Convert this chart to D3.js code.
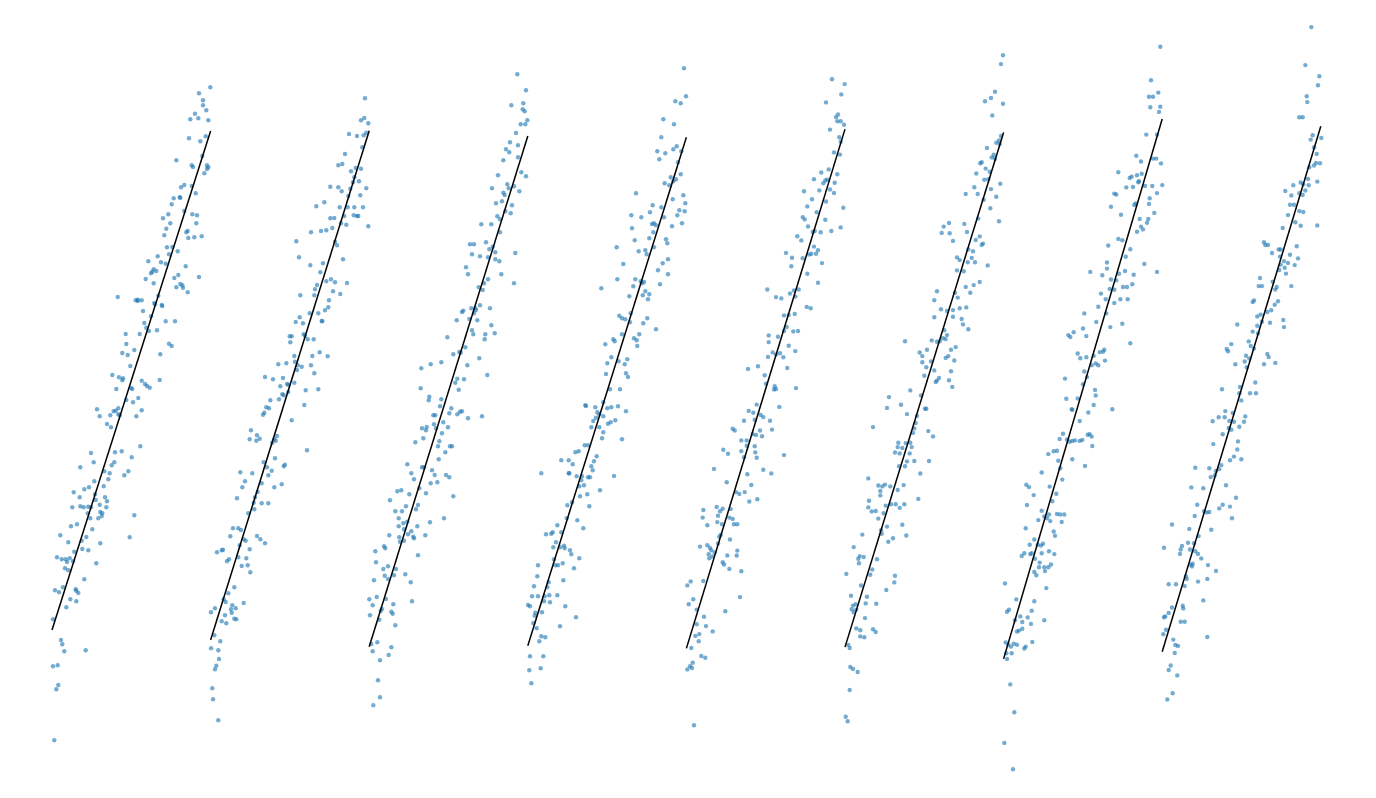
<!DOCTYPE html>
<html>
<head>
<meta charset="utf-8">
<script src="https://cdn.jsdelivr.net/npm/d3@7"></script>
<style>
  html, body { margin: 0; padding: 0; background: #ffffff; }
  svg { display: block; }
</style>
</head>
<body>
<svg id="chart" width="1376" height="798"></svg>
<script>
// ---- data (x: 0..15.86 within each facet, y in value units) ----
const panels = ["1", "2", "3", "4", "5", "6", "7", "8"];
const xExtent = [0, 15.86];
const fitIntercepts = [17.0, 16.0, 15.33, 15.43, 15.16, 15.29, 14.11, 14.83];
const fitSlopes = [3.146, 3.211, 3.220, 3.206, 3.274, 3.245, 3.404, 3.313];

const p1 = [[15.83,71.27],[14.7,70.67],[15.1,69.97],[15.1,69.47],[15.43,68.97],[14.3,68.63],[13.83,68.07],[14.63,68.17],[15.63,67.97],[13.7,66.17],[14.83,65.87],[15.37,66.37],[15.03,64.4],[12.43,63.97],[13.97,63.47],[14.1,63.3],[15.5,63.47],[15.63,63.27],[15.5,63.1],[15.23,62.67],[13.23,61.5],[12.9,61.27],[13.97,61.4],[14.37,60.67],[12.17,60.17],[12.77,60.27],[12.83,60.23],[11.97,59.57],[13.23,58.9],[14.03,58.57],[14.5,58.47],[11.63,58.57],[11.1,58.17],[11.83,57.67],[14.43,57.67],[11.43,57.13],[13.57,56.9],[13.43,56.77],[11.23,56.47],[13.63,56.2],[14.23,56.27],[14.97,56.37],[11.5,55.27],[12.03,55.3],[12.57,54.87],[11.7,54.57],[10.57,54.37],[10.9,53.77],[11.37,53.63],[9.63,53.87],[10.17,53.07],[10.03,52.83],[9.9,52.67],[10.43,52.9],[9.37,52.1],[12.23,52.2],[12.63,52.5],[13.37,53.37],[14.7,52.3],[10.17,51.67],[12.83,51.6],[13.03,51.47],[12.43,51.27],[13.1,51.23],[13.57,50.77],[6.57,50.3],[8.37,49.97],[8.57,50.03],[8.57,49.9],[8.97,49.97],[10.63,50.43],[10.23,49.7],[10.3,49.57],[10.97,49.5],[11.03,49.4],[9.1,48.9],[9.9,48.37],[9.23,47.7],[11.37,47.87],[12.3,47.87],[9.43,47.23],[9.7,46.9],[10.5,46.97],[7.37,46.6],[8.77,46.6],[7.43,45.6],[8.23,45.0],[7.03,44.7],[7.57,44.5],[11.7,45.63],[11.97,45.4],[10.83,44.57],[7.83,43.4],[6.03,42.5],[6.7,42.27],[7.1,42.17],[7.03,41.97],[6.43,41.1],[7.9,41.2],[8.03,41.1],[8.97,41.93],[9.3,41.6],[9.5,41.4],[9.77,41.23],[10.77,42.0],[8.1,39.77],[8.63,40.2],[7.43,40.0],[8.97,38.97],[4.5,39.07],[4.77,38.37],[5.83,38.47],[6.17,38.87],[6.37,38.93],[6.63,39.17],[6.63,38.57],[6.77,38.47],[8.43,38.37],[5.5,37.6],[5.9,37.27],[3.9,34.7],[4.17,33.77],[2.83,33.27],[6.3,34.77],[6.97,34.87],[7.97,34.27],[8.83,35.37],[6.23,33.77],[5.97,33.47],[5.77,32.67],[5.63,32.07],[7.63,32.87],[7.23,32.47],[5.23,32.87],[4.23,31.87],[5.17,31.37],[3.23,31.07],[3.7,31.27],[2.17,30.77],[4.3,30.57],[2.77,30.27],[5.3,30.27],[5.5,29.87],[4.37,30.0],[4.77,29.53],[5.43,29.27],[2.03,29.27],[2.83,29.37],[3.17,29.27],[3.63,29.33],[3.9,29.27],[3.57,28.67],[4.83,28.8],[5.03,28.67],[4.97,28.4],[4.63,28.17],[3.83,28.17],[8.23,28.47],[2.5,27.57],[1.9,27.37],[4.03,27.07],[3.43,26.3],[7.77,26.27],[0.83,26.47],[2.97,25.93],[1.63,25.77],[4.83,25.67],[2.23,24.83],[3.03,25.1],[3.63,24.97],[0.5,24.27],[0.97,24.07],[1.37,24.07],[1.77,24.17],[2.1,23.87],[1.5,23.8],[1.3,23.17],[1.63,22.97],[4.43,23.67],[3.23,22.07],[0.3,20.97],[0.7,20.77],[1.1,21.27],[2.37,21.07],[2.43,20.93],[2.63,20.7],[1.83,20.07],[2.43,19.87],[1.43,19.27],[0.1,18.07],[0.9,16.0],[1.03,15.57],[1.23,14.87],[3.37,14.97],[0.1,13.37],[0.57,13.47],[0.63,11.5],[0.43,11.07],[0.23,5.97]];

const p2 = [[15.44,70.17],[15.04,67.97],[15.37,68.2],[15.77,67.67],[13.84,66.6],[14.64,66.4],[15.31,66.47],[15.57,66.73],[15.17,65.27],[13.44,64.6],[12.77,63.47],[13.17,63.6],[14.04,62.87],[14.51,63.2],[15.04,63.13],[14.37,62.27],[14.84,61.87],[14.24,61.77],[11.97,61.33],[12.77,61.27],[13.11,60.87],[13.97,61.13],[15.57,61.17],[13.77,60.4],[14.97,60.47],[10.57,59.37],[11.37,59.77],[12.91,59.27],[13.71,59.27],[14.37,59.27],[15.24,59.27],[11.97,58.17],[12.37,58.2],[13.37,58.4],[14.31,58.47],[14.64,58.4],[14.77,58.4],[13.04,57.67],[13.57,57.53],[15.77,57.37],[12.17,57.2],[10.04,56.77],[11.04,56.9],[11.57,56.97],[8.57,55.87],[12.44,55.83],[12.64,55.47],[8.84,54.27],[13.24,54.07],[9.97,53.47],[11.24,53.67],[10.97,52.77],[11.57,51.87],[12.04,52.07],[12.44,51.77],[13.64,51.7],[10.64,51.5],[10.44,51.07],[12.24,50.87],[12.97,50.6],[8.97,50.47],[10.37,50.47],[11.84,49.97],[11.77,49.27],[11.44,48.97],[9.91,48.67],[10.77,48.67],[8.91,48.27],[8.51,47.8],[9.24,47.67],[11.11,47.9],[11.17,47.87],[7.91,46.37],[8.11,46.37],[7.97,45.77],[9.31,46.57],[9.44,46.43],[9.71,46.07],[10.31,46.07],[10.17,44.4],[10.91,44.77],[11.71,44.37],[8.37,44.4],[6.77,43.57],[7.57,43.67],[8.44,43.83],[8.71,43.47],[9.11,43.33],[8.64,43.0],[10.04,43.47],[10.37,42.67],[5.44,42.3],[6.24,42.07],[7.24,42.2],[6.97,41.37],[7.64,41.6],[7.77,41.53],[8.37,41.73],[7.17,40.57],[7.77,40.8],[7.31,40.47],[9.51,40.97],[10.77,41.07],[5.97,39.97],[6.84,40.07],[5.57,39.27],[5.84,39.17],[9.37,39.5],[5.24,38.53],[5.37,38.73],[8.11,37.97],[4.04,36.97],[3.91,36.07],[4.57,35.93],[4.64,36.47],[4.91,36.13],[6.17,35.73],[6.51,35.93],[6.64,36.4],[6.37,36.07],[9.64,34.97],[6.44,34.17],[5.31,33.77],[5.64,33.27],[6.11,32.93],[5.77,32.47],[7.31,33.37],[7.44,33.53],[2.97,32.77],[4.17,32.67],[3.44,31.87],[3.17,31.27],[5.11,31.67],[4.71,30.8],[6.37,31.27],[7.11,31.57],[2.64,30.17],[4.44,30.27],[4.31,29.73],[4.37,29.07],[5.11,29.67],[5.77,29.67],[3.77,28.67],[2.24,27.17],[2.77,27.17],[3.04,27.0],[1.97,26.37],[3.31,26.07],[3.51,25.93],[4.64,26.4],[4.97,26.07],[5.44,25.67],[2.91,25.47],[3.91,25.07],[0.64,24.77],[1.11,24.97],[1.24,25.03],[1.84,24.07],[1.64,23.87],[2.77,24.27],[3.57,24.17],[3.11,23.4],[3.71,23.47],[3.97,22.77],[2.37,21.27],[1.77,20.67],[1.31,20.07],[1.51,19.8],[2.17,19.47],[2.04,19.07],[2.11,18.73],[2.51,19.17],[3.31,19.7],[0.04,18.77],[0.44,19.17],[1.44,18.47],[1.11,17.87],[1.57,17.67],[2.37,18.13],[2.57,18.07],[0.37,16.47],[0.97,15.87],[0.04,15.17],[0.77,14.97],[0.84,14.1],[0.57,13.43],[0.44,13.07],[0.17,11.17],[0.24,10.07],[0.77,7.97]];

const p3 = [[14.81,72.57],[15.68,70.97],[14.21,69.47],[15.41,69.67],[15.35,69.07],[15.55,68.87],[15.81,67.97],[15.15,67.57],[15.61,67.57],[14.68,66.7],[14.08,65.77],[14.88,65.47],[13.68,65.07],[14.01,64.77],[14.88,64.27],[13.41,63.97],[15.21,62.77],[15.68,62.37],[12.88,62.47],[13.81,61.57],[13.95,61.17],[14.48,61.37],[12.28,61.17],[13.41,60.73],[13.55,60.5],[15.01,60.87],[12.68,59.67],[13.28,59.87],[14.28,59.47],[14.15,58.67],[13.61,58.87],[12.81,58.37],[13.08,58.07],[11.21,57.57],[12.21,57.57],[13.08,56.77],[10.08,55.57],[10.48,55.57],[11.68,55.77],[10.28,54.57],[11.08,54.37],[12.01,55.07],[12.35,55.33],[12.61,54.77],[11.88,54.27],[12.61,54.07],[13.01,53.87],[14.61,54.7],[9.68,53.27],[9.88,52.57],[13.21,52.57],[11.88,52.07],[11.48,51.67],[14.48,51.67],[10.95,51.27],[11.35,51.0],[11.08,49.47],[10.61,49.17],[10.68,49.0],[10.48,48.67],[9.28,48.8],[9.41,48.93],[10.21,49.17],[12.08,49.17],[8.75,47.97],[10.01,48.1],[10.81,47.97],[12.21,47.47],[10.28,46.97],[10.41,46.57],[11.61,46.57],[11.55,46.07],[12.55,46.67],[7.81,46.27],[9.61,45.27],[8.41,44.57],[9.01,44.8],[9.15,44.73],[11.01,44.17],[5.21,43.17],[6.15,43.57],[7.21,43.77],[9.81,43.47],[11.81,42.5],[8.81,42.13],[9.48,42.07],[5.15,41.17],[8.61,41.73],[8.95,41.03],[6.01,40.33],[5.95,39.97],[7.21,40.07],[7.08,39.37],[8.21,39.17],[8.01,38.67],[8.81,38.57],[9.08,38.83],[9.28,38.87],[9.88,38.17],[11.28,38.37],[6.41,38.47],[6.61,38.47],[7.41,37.77],[6.48,37.57],[5.28,37.17],[5.75,37.3],[5.68,36.97],[6.68,37.17],[7.88,37.27],[7.28,36.67],[5.41,36.17],[4.61,35.77],[7.01,35.87],[6.88,35.37],[8.08,35.37],[8.28,35.37],[7.61,34.77],[6.95,34.07],[3.81,33.57],[5.28,33.27],[5.48,33.27],[6.28,32.97],[6.55,32.5],[6.15,31.67],[4.21,32.67],[4.48,32.07],[7.68,32.5],[8.01,32.27],[6.81,31.77],[2.81,30.87],[3.21,30.97],[4.01,30.57],[5.01,31.17],[5.68,30.67],[8.41,30.37],[2.08,29.97],[3.68,29.37],[4.88,29.5],[4.68,29.07],[2.61,28.87],[3.28,28.87],[2.95,28.17],[3.81,27.83],[3.41,27.67],[2.95,27.37],[4.81,27.37],[6.08,27.77],[7.48,28.17],[3.48,27.07],[4.21,26.87],[3.88,26.57],[4.41,26.33],[4.48,26.17],[5.61,26.47],[2.01,26.47],[3.01,26.27],[3.08,25.83],[3.48,25.93],[1.48,25.37],[1.61,25.17],[0.61,24.87],[4.88,24.47],[0.68,23.77],[1.41,23.1],[1.88,23.37],[2.68,23.1],[1.55,22.43],[1.88,22.1],[2.48,22.47],[3.61,22.57],[4.15,21.77],[0.48,21.97],[0.01,20.07],[0.75,20.3],[1.68,20.1],[4.28,19.87],[0.35,19.47],[1.28,19.1],[2.41,19.57],[1.15,18.9],[2.21,18.83],[2.35,18.63],[0.08,18.47],[1.01,18.03],[2.61,17.47],[0.21,15.6],[0.81,15.77],[0.35,14.87],[2.21,15.27],[1.95,14.5],[1.08,13.97],[0.88,11.97],[1.08,10.27],[0.41,9.47]];

const p4 = [[15.62,73.17],[15.82,70.37],[14.75,69.87],[15.29,69.67],[13.55,68.07],[14.62,67.57],[13.35,66.27],[12.95,64.87],[13.75,64.67],[13.15,64.07],[14.55,65.07],[14.89,65.37],[15.35,64.87],[15.02,63.77],[15.29,62.57],[14.29,62.27],[14.82,62.07],[14.55,61.87],[13.69,61.67],[14.15,61.47],[10.82,60.67],[15.55,60.47],[15.75,59.67],[14.49,60.07],[12.49,59.47],[13.35,59.27],[15.15,58.97],[15.69,58.87],[10.35,58.47],[11.35,58.27],[12.22,58.77],[13.62,58.27],[14.95,58.47],[12.42,57.6],[12.62,57.67],[12.82,57.47],[15.42,57.67],[14.42,57.37],[10.42,57.17],[12.55,56.77],[10.69,55.97],[12.15,56.17],[13.82,56.07],[13.95,55.67],[8.89,55.27],[11.09,54.87],[11.75,54.97],[11.89,54.57],[12.62,55.27],[14.02,54.07],[13.49,53.67],[13.02,52.97],[9.55,53.6],[14.02,52.57],[8.95,52.07],[10.75,52.07],[11.29,51.87],[11.62,51.8],[11.42,51.67],[10.55,51.37],[13.22,51.57],[7.35,51.17],[11.75,50.87],[12.15,50.57],[11.49,50.47],[12.02,50.07],[10.15,50.37],[9.15,48.43],[9.42,48.17],[9.75,48.07],[10.22,47.77],[10.29,48.67],[11.95,48.17],[11.55,47.67],[12.82,47.07],[9.42,46.57],[11.15,46.57],[10.62,46.17],[10.89,45.97],[10.95,45.4],[7.75,45.57],[8.55,46.07],[8.69,45.87],[8.35,44.27],[7.95,43.67],[9.09,43.87],[9.95,44.07],[9.69,43.57],[7.82,42.6],[9.82,42.67],[10.02,42.3],[8.22,41.07],[9.22,41.07],[5.75,39.47],[5.82,39.4],[6.75,39.27],[7.55,39.77],[7.95,39.17],[8.35,39.27],[9.02,39.37],[9.82,38.87],[6.95,38.77],[7.15,38.57],[6.82,38.23],[6.55,37.9],[7.55,38.37],[8.02,37.63],[8.29,37.77],[8.75,37.97],[6.35,37.27],[7.15,37.27],[7.55,36.77],[7.42,36.17],[9.42,36.07],[5.69,35.47],[6.02,35.47],[4.75,34.77],[5.09,34.87],[6.89,34.37],[6.62,33.87],[6.35,33.37],[6.49,32.97],[3.35,33.97],[4.09,33.97],[4.49,33.57],[1.35,32.67],[4.09,32.67],[4.15,32.67],[4.89,32.37],[5.42,32.37],[5.35,31.97],[6.02,32.27],[6.22,32.27],[8.62,32.4],[5.15,31.37],[5.62,31.47],[7.22,30.97],[5.95,30.57],[5.22,30.37],[3.95,29.47],[4.42,29.77],[6.15,29.37],[3.89,28.17],[4.95,27.97],[2.95,27.47],[5.55,27.17],[1.82,26.57],[2.35,26.63],[2.49,26.77],[3.35,26.77],[2.82,25.77],[2.55,25.27],[3.22,25.27],[3.62,25.43],[3.69,25.17],[4.22,24.97],[4.35,24.57],[5.15,24.17],[2.62,24.07],[2.75,23.47],[3.02,23.47],[3.49,23.67],[4.62,23.17],[1.02,23.47],[0.95,22.37],[3.55,21.97],[2.09,21.77],[1.95,21.27],[0.62,21.37],[0.42,20.37],[1.02,20.37],[1.69,20.37],[2.15,20.47],[2.95,20.47],[1.62,19.87],[2.22,19.77],[0.02,19.5],[0.22,19.37],[3.75,19.37],[0.75,18.73],[0.69,18.43],[1.42,18.77],[4.82,18.27],[0.55,17.67],[0.89,17.17],[3.22,17.37],[1.35,16.37],[1.75,16.27],[1.15,15.87],[0.22,14.37],[1.55,14.37],[0.15,12.97],[1.29,13.17],[0.35,11.67]];

const p5 = [[14.56,72.08],[15.83,71.59],[15.49,70.56],[13.96,69.76],[14.96,68.29],[15.16,68.55],[15.09,67.88],[15.43,67.88],[15.76,67.53],[14.36,67.04],[15.29,66.28],[15.43,65.83],[14.76,64.76],[15.36,64.54],[13.49,62.75],[14.23,63.06],[15.09,62.57],[12.76,62.08],[13.69,61.68],[13.89,61.95],[14.09,62.04],[14.36,61.05],[14.76,60.7],[14.83,61.72],[11.76,60.87],[13.29,60.96],[12.56,60.07],[12.09,59.36],[13.03,58.78],[13.96,59.85],[15.69,59.22],[11.63,58.29],[11.83,58.06],[13.89,58.02],[12.16,57.35],[12.63,56.81],[12.83,56.9],[13.43,56.77],[14.49,56.9],[15.43,57.26],[11.09,56.37],[11.49,55.96],[12.76,55.34],[13.16,54.98],[12.96,54.62],[12.29,54.54],[12.49,54.62],[9.96,54.71],[10.56,54.22],[10.49,53.37],[11.63,54.18],[13.56,53.69],[12.09,52.62],[13.16,51.72],[8.09,51.05],[8.96,50.29],[9.49,50.16],[10.36,50.65],[10.76,50.96],[11.23,51.05],[10.89,50.34],[12.03,49.31],[12.43,49.18],[9.76,48.46],[10.23,48.51],[10.83,48.6],[10.03,47.3],[10.69,46.86],[11.16,46.9],[9.76,46.9],[8.23,46.46],[8.23,45.79],[9.16,46.32],[10.23,45.43],[10.89,44.89],[8.16,44.31],[8.63,44.76],[8.96,44.54],[9.36,44.67],[9.69,44.27],[6.16,43.11],[7.16,43.37],[10.09,43.2],[7.83,42.48],[7.96,41.63],[8.83,41.37],[8.96,41.1],[8.76,41.05],[10.96,41.19],[9.29,39.31],[7.03,39.54],[7.43,38.51],[7.69,38.29],[6.83,38.02],[6.23,38.91],[6.69,38.73],[8.36,37.93],[8.56,37.04],[5.76,37.93],[4.63,37.12],[4.83,36.95],[6.63,36.59],[6.96,36.5],[7.36,36.95],[7.56,36.37],[6.03,35.96],[5.49,35.96],[6.03,35.43],[6.83,35.38],[6.89,34.76],[7.03,34.22],[3.69,35.03],[4.16,34.62],[5.49,34.89],[5.76,34.27],[9.76,34.49],[7.69,33.02],[8.49,32.66],[2.76,33.11],[4.03,31.77],[6.09,32.57],[6.49,31.5],[5.83,30.79],[4.96,30.79],[5.29,30.61],[7.09,30.07],[6.29,29.85],[3.63,29.13],[4.43,29.09],[4.29,28.24],[4.76,27.57],[4.63,28.11],[5.09,27.57],[2.09,27.48],[1.63,28.24],[1.69,29.0],[3.03,29.31],[3.16,28.42],[3.36,28.87],[3.09,27.79],[3.56,27.57],[4.36,26.05],[1.36,25.34],[2.09,25.47],[2.36,25.21],[2.49,24.98],[2.23,24.58],[2.29,24.18],[2.63,24.36],[2.83,24.76],[3.29,26.32],[3.43,26.5],[3.16,25.65],[3.63,23.78],[3.76,23.55],[4.09,24.45],[4.29,23.11],[5.03,24.45],[5.09,24.94],[5.49,22.88],[5.36,20.29],[3.89,18.87],[1.69,21.9],[0.09,21.46],[0.43,21.86],[0.23,19.58],[0.69,20.07],[1.03,19.04],[1.76,18.33],[1.96,17.39],[2.63,16.86],[1.03,17.57],[1.29,16.59],[0.89,16.41],[1.23,15.87],[0.49,15.2],[1.49,14.4],[1.89,14.22],[0.63,13.73],[0.36,13.37],[0.09,13.06],[0.56,13.2],[0.76,7.48]];

const p6 = [[15.8,74.48],[15.6,73.59],[15.0,70.82],[14.6,70.2],[14.0,69.88],[15.8,69.62],[14.73,68.46],[15.6,66.4],[15.4,65.96],[15.47,65.6],[15.13,65.73],[14.87,64.53],[15.0,64.12],[14.67,64.26],[14.2,65.2],[13.53,63.68],[13.67,63.77],[14.07,63.14],[14.47,62.83],[13.13,62.65],[13.93,62.03],[14.33,62.07],[12.93,61.27],[15.53,61.62],[14.6,61.09],[15.13,60.33],[12.07,60.6],[13.27,60.6],[13.87,60.02],[14.53,59.17],[15.4,57.87],[13.33,58.14],[11.93,57.61],[12.2,56.8],[9.87,57.34],[10.4,57.7],[9.67,56.71],[10.47,56.67],[10.8,55.91],[13.47,56.36],[13.8,55.64],[13.67,55.51],[13.07,56.0],[12.33,55.06],[12.8,54.88],[12.67,54.21],[13.0,53.77],[12.27,53.77],[11.2,54.26],[11.47,53.99],[11.87,52.87],[11.2,52.96],[14.27,53.46],[13.47,51.8],[12.87,51.49],[12.53,50.73],[12.07,51.31],[9.2,50.87],[8.93,49.97],[8.93,48.28],[11.0,50.73],[11.27,50.24],[9.6,49.08],[10.2,48.9],[10.8,48.99],[11.47,49.17],[12.13,49.26],[10.8,48.32],[11.67,48.1],[11.8,47.56],[12.33,47.07],[9.93,46.98],[10.2,46.49],[11.07,45.29],[10.6,45.02],[10.33,44.39],[10.07,44.21],[6.0,45.87],[8.67,45.96],[9.2,45.82],[9.47,45.87],[9.8,46.18],[10.07,46.09],[8.2,45.02],[7.47,44.75],[7.73,44.39],[7.73,43.77],[8.6,43.86],[8.13,43.28],[8.93,42.96],[9.07,41.8],[9.2,41.94],[9.4,42.21],[7.93,42.43],[10.6,42.87],[10.4,41.98],[10.73,41.31],[10.93,43.95],[6.53,40.96],[4.4,40.29],[4.2,39.21],[5.6,39.53],[6.2,38.59],[7.6,40.46],[8.0,39.12],[8.13,39.12],[7.2,38.41],[7.07,37.7],[6.93,37.16],[6.8,36.71],[8.33,36.89],[8.8,36.36],[2.8,37.29],[5.33,35.73],[5.27,35.29],[5.73,35.2],[6.07,35.69],[6.53,35.73],[6.67,35.29],[5.0,34.75],[5.47,34.66],[6.47,34.66],[6.2,33.86],[6.93,33.9],[7.53,32.65],[8.4,33.9],[5.4,33.37],[6.0,33.37],[2.33,32.16],[3.33,31.45],[3.53,30.91],[3.73,31.36],[4.0,31.54],[3.53,30.46],[4.53,31.36],[5.27,31.0],[5.07,29.57],[5.87,31.49],[7.33,30.11],[2.4,29.93],[2.33,29.26],[2.67,28.86],[3.07,28.9],[3.33,28.14],[4.07,29.44],[4.6,29.57],[5.47,29.21],[5.93,29.57],[3.87,28.68],[3.6,26.98],[3.67,26.62],[4.2,27.34],[4.8,26.18],[4.33,25.82],[5.73,27.52],[6.13,26.45],[1.73,26.54],[0.87,25.29],[1.33,24.12],[1.47,24.39],[1.87,24.3],[1.4,23.68],[3.2,24.08],[2.73,23.05],[2.53,22.52],[5.0,22.43],[4.93,21.76],[4.13,21.0],[0.13,22.61],[1.6,21.45],[2.2,20.33],[2.07,19.66],[3.13,19.62],[0.6,20.42],[0.8,19.44],[1.07,19.57],[0.67,19.08],[0.87,18.77],[1.13,19.04],[2.0,18.19],[2.8,17.07],[3.07,16.8],[1.13,17.16],[1.53,16.98],[1.53,16.36],[1.93,16.27],[0.33,15.51],[0.47,15.2],[0.53,13.3],[0.8,13.1],[1.27,12.8],[0.47,11.0],[0.07,8.32],[0.27,7.87]];

const p7 = [[15.67,75.32],[14.74,71.97],[14.54,70.32],[14.94,70.32],[15.47,70.74],[14.67,69.28],[15.67,69.33],[15.54,68.81],[14.27,66.54],[15.34,66.54],[14.94,64.14],[15.27,64.14],[15.74,63.66],[13.27,64.42],[13.74,63.85],[11.47,62.77],[12.61,62.2],[12.81,62.34],[13.34,62.48],[13.81,62.63],[13.54,61.87],[12.27,61.26],[12.94,61.3],[13.47,61.78],[14.14,61.4],[14.87,61.4],[15.87,61.49],[11.07,60.64],[11.27,60.55],[15.34,60.69],[13.21,59.65],[13.07,59.51],[14.61,60.17],[14.54,59.61],[10.74,59.32],[11.74,58.52],[15.07,58.71],[14.47,58.1],[14.34,57.72],[13.61,58.1],[13.74,57.34],[13.34,56.82],[13.94,57.06],[11.47,56.11],[11.87,55.97],[10.47,55.45],[12.67,55.07],[12.21,54.32],[14.07,53.61],[15.34,52.81],[8.67,52.81],[10.34,53.75],[10.34,53.14],[12.14,52.9],[13.01,52.53],[11.54,52.62],[10.74,52.05],[11.27,51.96],[9.87,52.48],[12.87,51.58],[11.94,51.3],[12.34,51.3],[10.61,51.11],[11.07,51.02],[9.74,50.64],[10.21,50.07],[11.07,49.7],[11.67,50.07],[12.41,50.07],[9.47,49.32],[8.07,48.66],[9.27,47.81],[10.27,48.66],[10.67,47.29],[11.87,47.62],[7.94,47.15],[8.27,46.39],[6.47,46.49],[6.67,46.3],[7.01,46.77],[12.67,45.68],[7.41,44.65],[7.67,44.17],[8.27,44.27],[9.01,44.41],[9.61,44.79],[10.07,45.02],[9.94,44.83],[8.81,43.47],[9.21,43.65],[9.47,43.47],[10.14,43.94],[8.07,42.85],[8.34,42.29],[7.94,41.58],[9.14,41.01],[9.21,40.45],[6.14,42.14],[6.27,40.12],[6.81,39.08],[6.87,39.03],[7.41,40.16],[7.61,37.9],[8.47,38.75],[9.01,39.5],[8.61,36.58],[8.81,36.34],[8.41,36.53],[10.87,39.08],[5.61,36.1],[5.94,36.62],[6.34,36.06],[6.61,35.82],[6.87,35.91],[7.14,35.96],[7.61,35.91],[7.87,36.01],[8.87,35.4],[8.14,33.41],[5.01,34.88],[5.34,34.92],[4.47,34.59],[5.47,33.93],[6.87,34.07],[5.67,33.18],[5.87,32.04],[3.81,32.75],[4.61,31.34],[2.27,31.53],[2.54,31.29],[3.01,30.49],[2.34,29.5],[4.87,29.87],[5.27,30.63],[5.34,28.6],[5.67,28.55],[6.07,28.55],[5.81,27.8],[5.01,26.85],[5.14,26.43],[3.81,28.93],[4.07,28.36],[3.47,27.99],[4.34,28.17],[4.54,28.55],[4.67,27.89],[2.21,27.18],[3.07,26.05],[3.41,25.53],[2.61,25.53],[2.67,24.59],[1.81,24.4],[2.07,24.68],[2.81,24.68],[3.74,25.44],[3.94,25.63],[3.81,24.68],[4.54,24.87],[3.14,24.12],[3.61,23.74],[3.54,23.27],[4.07,23.27],[4.14,22.89],[4.47,23.27],[4.74,23.55],[5.07,24.59],[3.07,22.8],[3.27,22.47],[4.27,21.19],[0.14,21.66],[0.34,18.83],[0.54,19.02],[1.27,20.06],[2.81,18.93],[3.07,19.87],[4.07,17.98],[1.14,17.98],[1.67,18.36],[1.87,17.8],[1.54,16.94],[1.34,16.85],[1.87,17.13],[2.41,18.26],[2.74,17.61],[0.21,15.76],[0.47,15.53],[0.74,15.34],[1.01,15.62],[1.34,15.53],[2.07,15.15],[2.21,15.34],[2.87,15.81],[0.27,14.68],[0.81,14.68],[0.34,14.11],[0.67,11.56],[1.07,8.78],[0.07,5.71],[0.94,3.07]];

const p8 = [[14.91,77.29],[14.31,73.49],[15.71,72.37],[15.58,71.48],[14.45,70.37],[14.51,69.79],[13.71,68.27],[14.05,68.27],[15.05,66.48],[14.85,66.04],[15.91,66.21],[15.18,65.28],[15.45,64.61],[15.38,63.71],[15.18,63.45],[15.78,63.67],[14.71,63.27],[14.58,62.11],[15.51,61.84],[14.65,61.48],[13.11,61.48],[13.85,61.75],[14.11,61.57],[14.31,60.95],[12.31,60.9],[12.91,60.46],[13.71,60.68],[14.05,60.5],[12.78,59.52],[13.18,59.52],[12.58,58.49],[13.31,57.78],[13.71,58.89],[14.11,58.8],[13.85,57.42],[15.51,57.46],[12.05,57.2],[10.18,55.77],[10.31,55.5],[10.58,55.5],[11.65,55.05],[11.85,55.05],[10.98,54.7],[12.78,54.52],[13.45,55.37],[13.58,54.16],[13.25,53.49],[11.78,54.34],[12.18,53.89],[12.58,53.71],[12.25,53.22],[12.91,51.39],[12.38,52.64],[11.71,53.0],[11.85,53.54],[9.78,52.2],[9.65,51.39],[9.98,51.39],[11.05,51.84],[11.31,51.04],[11.45,51.3],[9.18,49.96],[9.05,49.79],[11.58,49.87],[11.25,49.52],[10.91,48.98],[10.51,48.8],[9.51,48.36],[9.85,48.54],[9.51,47.42],[9.98,47.82],[10.78,47.73],[12.11,48.0],[12.18,47.29],[7.51,47.55],[9.05,46.84],[9.58,46.66],[6.45,45.1],[6.91,45.59],[6.58,44.87],[8.65,45.86],[8.85,45.41],[9.18,45.14],[8.38,44.43],[8.25,43.85],[8.71,44.16],[7.31,43.58],[8.45,43.27],[10.51,44.61],[10.65,44.29],[11.31,43.71],[10.18,43.58],[9.31,41.75],[8.78,40.68],[9.38,40.68],[7.78,41.3],[7.91,39.96],[7.71,40.68],[5.98,41.08],[5.05,37.87],[5.65,38.27],[6.25,38.27],[6.31,38.89],[7.05,38.71],[6.71,37.91],[7.18,37.82],[7.71,37.33],[8.18,37.82],[8.31,38.36],[6.65,37.2],[6.91,37.02],[6.05,36.57],[5.11,35.59],[7.58,35.86],[7.51,35.05],[7.18,34.34],[7.91,34.07],[6.78,33.98],[5.91,33.49],[5.71,33.09],[4.71,33.18],[4.85,32.29],[5.25,32.46],[5.38,32.91],[3.31,33.22],[6.38,31.48],[7.38,30.23],[6.05,29.52],[5.71,29.16],[6.78,29.34],[6.98,28.18],[2.91,31.26],[4.11,31.17],[3.51,29.52],[4.18,28.89],[4.45,28.76],[4.71,28.8],[3.25,28.4],[4.91,27.02],[0.98,27.55],[2.71,27.11],[3.65,26.39],[3.18,25.68],[2.58,25.72],[1.98,25.41],[1.78,24.61],[1.85,25.05],[2.78,25.05],[3.31,24.87],[3.05,23.62],[3.58,24.61],[3.91,24.16],[2.85,23.54],[2.98,23.36],[4.58,23.49],[5.38,22.91],[4.51,22.11],[3.58,21.84],[0.18,25.23],[0.65,21.57],[1.38,21.57],[2.38,22.37],[2.45,22.11],[2.25,21.39],[4.11,19.96],[0.98,19.25],[2.05,19.43],[2.11,19.16],[0.65,18.71],[0.31,18.36],[0.18,18.27],[1.85,17.82],[2.25,17.82],[0.38,17.02],[0.11,16.57],[4.51,16.3],[1.11,16.04],[1.31,15.5],[1.58,15.41],[1.25,14.7],[0.85,13.45],[0.65,13.0],[1.51,12.46],[1.05,10.68],[0.51,10.05]];

const panelPoints = [p1, p2, p3, p4, p5, p6, p7, p8];

// ---- drawing ----
const width = 1376, height = 798;
const svg = d3.select("#chart");

const facet = d3.scaleBand().domain(panels).range([52, 1320.8]).paddingInner(0).paddingOuter(0);
const x = d3.scaleLinear().domain(xExtent).range([0, facet.bandwidth()]);
const y = d3.scaleLinear().domain([0, 80]).range([800, 0]);

panels.forEach((name, i) => {
  const g = svg.append("g").attr("transform", `translate(${facet(name)},0)`);

  g.selectAll("circle")
    .data(panelPoints[i])
    .join("circle")
    .attr("cx", d => x(d[0]))
    .attr("cy", d => y(d[1]))
    .attr("r", 2.2)
    .attr("fill", "#1f77b4")
    .attr("fill-opacity", 0.62);

  const a = fitIntercepts[i], b = fitSlopes[i];
  const fit = xExtent.map(v => [v, a + b * v]);
  g.append("path")
    .datum(fit)
    .attr("d", d3.line().x(d => x(d[0])).y(d => y(d[1])))
    .attr("fill", "none")
    .attr("stroke", "#000")
    .attr("stroke-width", 1.5);
});
</script>
</body>
</html>
